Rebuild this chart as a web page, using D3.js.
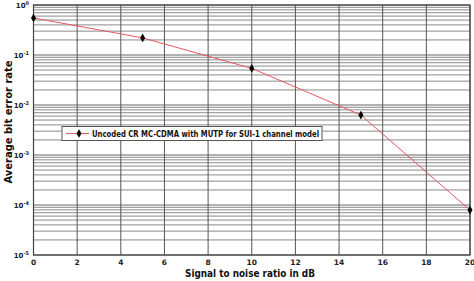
<!DOCTYPE html>
<html><head><meta charset="utf-8">
<script src="https://cdn.jsdelivr.net/npm/d3@7"></script>
<style>body{margin:0;background:#fff}</style>
</head><body>
<svg id="c" width="474" height="281"></svg>
<script>
const snr = [0, 5, 10, 15, 20];
const ber = [0.55, 0.22, 0.054, 0.0063, 0.000079];
const xTicks = [0, 2, 4, 6, 8, 10, 12, 14, 16, 18, 20];
const yExps = [0, -1, -2, -3, -4, -5];
const seriesName = "Uncoded CR MC-CDMA with MUTP for SUI-1 channel model";
const xTitle = "Signal to noise ratio in dB";
const yTitle = "Average bit error rate";

const svg = d3.select("#c");
const L = 33.5, R = 470, T = 5, B = 255;
const x = d3.scaleLinear().domain([0, 20]).range([L, R]);
const y = d3.scaleLog().domain([1e-5, 1]).range([B, T]);
const font = "DejaVu Sans, Verdana, sans-serif";

// minor horizontal grid
const minor = [];
for (let e = -5; e < 0; e++) for (let m = 2; m <= 9; m++) minor.push(m * Math.pow(10, e));
svg.append("g").selectAll("line").data(minor).join("line")
  .attr("x1", L).attr("x2", R).attr("y1", d => y(d)).attr("y2", d => y(d))
  .attr("stroke", "#8a8a8a").attr("stroke-width", 1);
svg.append("g").selectAll("line").data(yExps).join("line")
  .attr("x1", L).attr("x2", R).attr("y1", d => y(Math.pow(10, d))).attr("y2", d => y(Math.pow(10, d)))
  .attr("stroke", "#666").attr("stroke-width", 1);
svg.append("g").selectAll("line").data(xTicks).join("line")
  .attr("x1", d => x(d)).attr("x2", d => x(d)).attr("y1", T).attr("y2", B)
  .attr("stroke", "#555").attr("stroke-width", 1);
svg.append("rect").attr("x", L).attr("y", T).attr("width", R - L).attr("height", B - T)
  .attr("fill", "none").attr("stroke", "#444").attr("stroke-width", 1.2);

// x tick labels
svg.append("g").selectAll("text").data(xTicks).join("text")
  .attr("x", d => x(d)).attr("y", 265).attr("text-anchor", "middle")
  .attr("font-family", font).attr("font-weight", "bold").attr("font-size", 7.5).attr("fill", "#222")
  .text(d => d);
// y tick labels
const yl = svg.append("g").selectAll("text").data(yExps).join("text")
  .attr("x", 29).attr("y", d => y(Math.pow(10, d)) + 3).attr("text-anchor", "end")
  .attr("font-family", font).attr("font-weight", "bold").attr("font-size", 7).attr("fill", "#222");
yl.append("tspan").text("10");
yl.append("tspan").attr("dy", -3.5).attr("font-size", 5).text(d => d);

// titles
svg.append("text").attr("x", 250).attr("y", 277).attr("text-anchor", "middle")
  .attr("textLength", 130).attr("lengthAdjust", "spacingAndGlyphs")
  .attr("font-family", font).attr("font-weight", "bold").attr("font-size", 10.5).attr("fill", "#111").text(xTitle);
svg.append("text").attr("transform", "translate(12,122) rotate(-90)").attr("text-anchor", "middle")
  .attr("textLength", 123).attr("lengthAdjust", "spacingAndGlyphs")
  .attr("font-family", font).attr("font-weight", "bold").attr("font-size", 10.5).attr("fill", "#111").text(yTitle);

// series
const pts = snr.map((s, i) => [s, ber[i]]);
const line = d3.line().x(d => x(d[0])).y(d => y(d[1]));
svg.append("path").datum(pts).attr("d", line).attr("fill", "none")
  .attr("stroke", "#e8555f").attr("stroke-width", 1);
const sym = d3.symbol().type(d3.symbolDiamond).size(22);
svg.append("g").selectAll("path").data(pts).join("path")
  .attr("transform", d => `translate(${x(d[0])},${y(d[1])})`).attr("d", sym).attr("fill", "#000");

// legend
const lg = svg.append("g");
lg.append("rect").attr("x", 62).attr("y", 126.5).attr("width", 260).attr("height", 14)
  .attr("fill", "#fff").attr("stroke", "#555").attr("stroke-width", 1);
lg.append("line").attr("x1", 66).attr("x2", 89).attr("y1", 133.5).attr("y2", 133.5)
  .attr("stroke", "#e8555f").attr("stroke-width", 1);
lg.append("path").attr("transform", "translate(79,133.5)").attr("d", sym).attr("fill", "#000");
lg.append("text").attr("x", 92).attr("y", 136.5).attr("font-family", font).attr("font-weight", "bold")
  .attr("textLength", 227).attr("lengthAdjust", "spacingAndGlyphs")
  .attr("font-size", 8).attr("fill", "#111").text(seriesName);
</script>
</body></html>
